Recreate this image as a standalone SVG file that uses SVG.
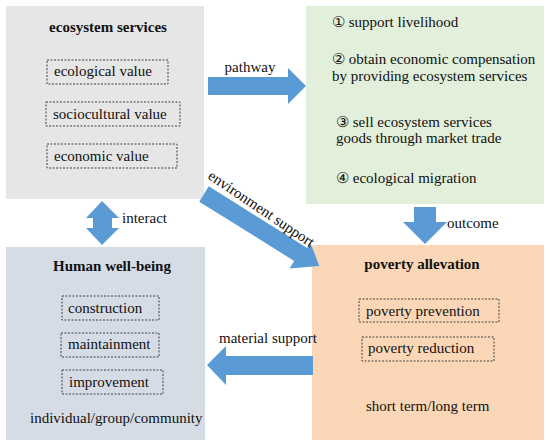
<svg xmlns="http://www.w3.org/2000/svg" width="550" height="445" viewBox="0 0 550 445">
<style>
.t{font-weight:bold;text-anchor:middle}
.d{fill:none;stroke:#404040;stroke-width:1;stroke-dasharray:2,1.5}
.a{fill:#5b9bd5}
</style>
<rect width="550" height="445" fill="#fff"/>
<g font-family="'Liberation Serif', 'Times New Roman', Tinos, 'DejaVu Serif', serif" font-size="15" fill="#111">
<g id="ecosystem-services">
<rect x="6" y="6" width="198" height="193" fill="#e6e6e6"/>
<text class="t" x="108" y="32">ecosystem services</text>
<rect class="d" x="47" y="60" width="121" height="24"/>
<text x="54" y="76">ecological value</text>
<rect class="d" x="46" y="102" width="134" height="24"/>
<text x="53" y="119">sociocultural value</text>
<rect class="d" x="47" y="144" width="130" height="24"/>
<text x="54" y="161">economic value</text>
</g>
<g id="pathways">
<rect x="306" y="6" width="238" height="198" fill="#e2efda"/>
<text x="332" y="27">① support livelihood</text>
<text x="332" y="64">② obtain economic compensation</text>
<text x="332" y="81">by providing ecosystem services</text>
<text x="336" y="127">③ sell ecosystem services</text>
<text x="336" y="143">goods through market trade</text>
<text x="336" y="183">④ ecological migration</text>
</g>
<g id="human-well-being">
<rect x="6" y="247" width="199" height="193" fill="#d6dce5"/>
<text class="t" x="112" y="271">Human well-being</text>
<rect class="d" x="62" y="296" width="97" height="24"/>
<text x="68" y="313">construction</text>
<rect class="d" x="61" y="333" width="98" height="24"/>
<text x="68" y="349">maintainment</text>
<rect class="d" x="62" y="370" width="101" height="24"/>
<text x="69" y="387">improvement</text>
<text x="30" y="423">individual/group/community</text>
</g>
<g id="poverty-allevation">
<rect x="312" y="245" width="232" height="195" fill="#fbd7b7"/>
<text class="t" x="422" y="269">poverty allevation</text>
<rect class="d" x="359" y="299" width="140" height="23"/>
<text x="366" y="316">poverty prevention</text>
<rect class="d" x="362" y="337" width="132" height="24"/>
<text x="368" y="353">poverty reduction</text>
<text x="366" y="411">short term/long term</text>
</g>
<g id="connectors">
<polygon class="a" points="208,77 288,77 288,68 306,86 288,104 288,95 208,95"/>
<text x="250" y="72" text-anchor="middle">pathway</text>
<polygon class="a" points="102,201 119,218 112,218 112,228 119,228 102,245 86,228 93,228 93,218 86,218"/>
<text x="122" y="223">interact</text>
<polygon class="a" points="414,207 436,207 436,222 447,222 425,244 403,222 414,222"/>
<text x="447" y="228">outcome</text>
<polygon class="a" points="313,356 226,356 226,346 207,365 226,385 226,375 313,375"/>
<text x="219" y="343">material support</text>
<path class="a" transform="translate(204,194) rotate(32)" d="M0,-9H112V-18L136,0L112,18V9H0Z"/>
<g transform="translate(207,178) rotate(34)">
<rect x="-1" y="-12" width="123" height="14" fill="#fff"/>
<text x="0" y="0">environment support</text>
</g>
</g>
</g>
</svg>
